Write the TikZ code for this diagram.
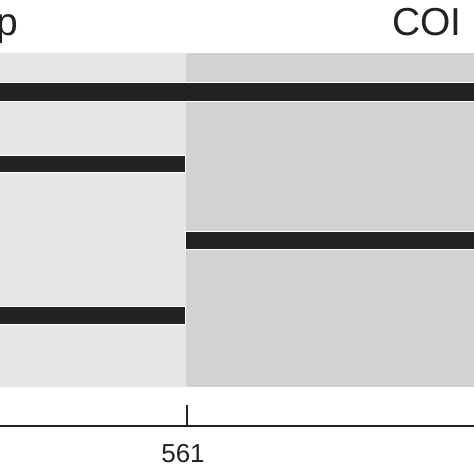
\documentclass[tikz,border=0pt]{standalone}
\usepackage{fontspec}
\setmainfont{Liberation Sans}
\definecolor{bandlight}{HTML}{E6E6E6}
\definecolor{banddark}{HTML}{D2D2D2}
\definecolor{barcol}{HTML}{222222}
\tikzset{
  bar/.style={fill=barcol, draw=white, line width=0.4pt},
  lbl/.style={inner sep=0pt, text=barcol},
  axisline/.style={draw=barcol, line width=2pt}
}
\begin{document}
\begin{tikzpicture}[x=1pt,y=-1pt]
\useasboundingbox (0,0) rectangle (474,474);
\clip (0,0) rectangle (474,474);
% background bands
\fill[bandlight] (0,53) rectangle (186,387);
\fill[banddark] (186,53) rectangle (474,387);
% bars
\fill[bar] (-5,82) rectangle (480,101);
\fill[bar] (-5,155) rectangle (185,172);
\fill[bar] (185,231) rectangle (480,249);
\fill[bar] (-5,306) rectangle (185,324);
% axis
\coordinate (axL) at (0,425.5);
\coordinate (axR) at (474,425.5);
\coordinate (tickTop) at (186.5,405);
\coordinate (tickBot) at (186.5,425.5);
\draw[axisline] (axL) -- (axR);
\draw[axisline] (tickTop) -- (tickBot);
% labels
\node[lbl, anchor=base, font=\fontsize{26}{30}\selectfont] (t561) at (183,462) {561};
\node[lbl, anchor=base east, font=\fontsize{39}{46}\selectfont] (coi) at (462,35) {COI};
\node[lbl, anchor=base west, font=\fontsize{39}{46}\selectfont] (p) at (-4,35) {p};
\end{tikzpicture}
\end{document}
